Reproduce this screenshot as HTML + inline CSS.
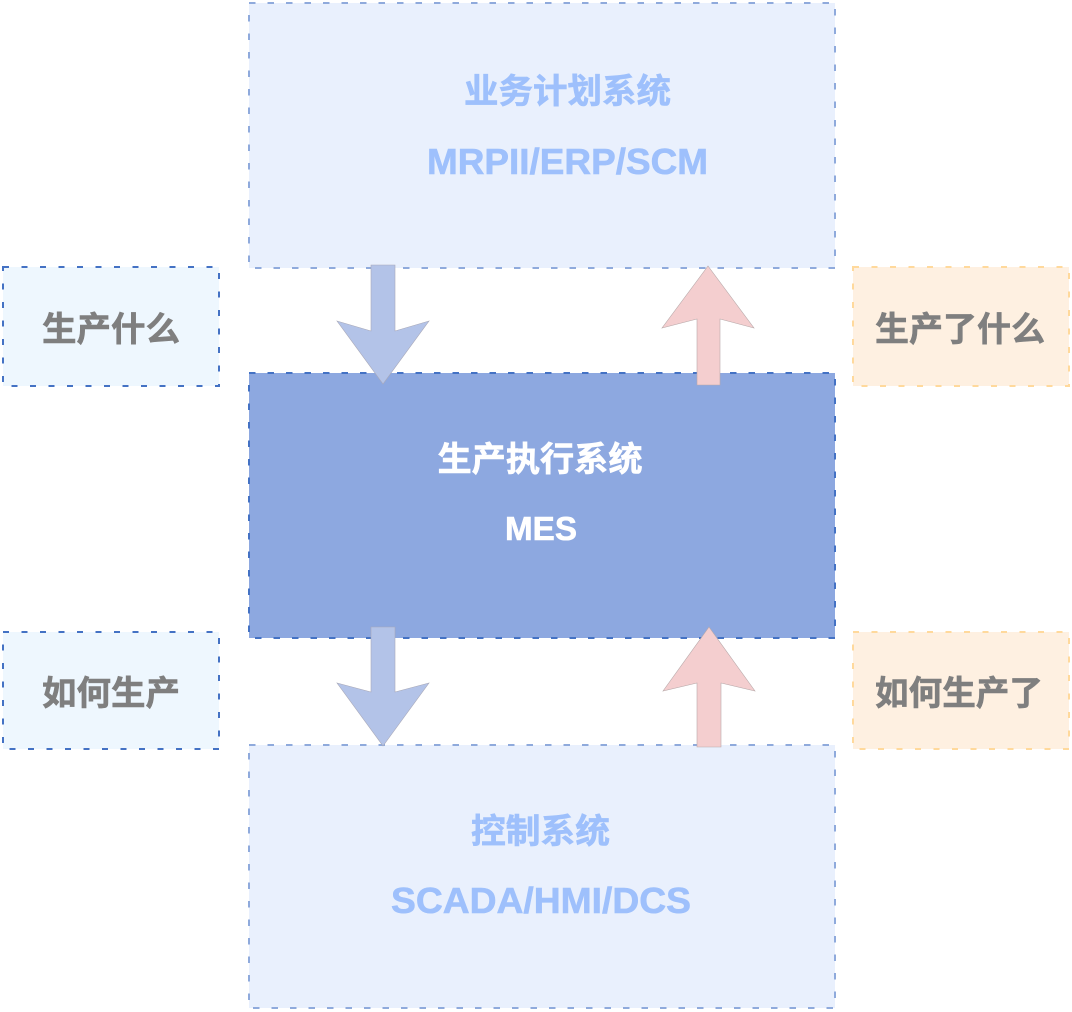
<!DOCTYPE html>
<html>
<head>
<meta charset="utf-8">
<style>
  html, body { margin: 0; padding: 0; background: #ffffff; }
  body { width: 1072px; height: 1012px; overflow: hidden; }
  svg { display: block; }
  text { font-family: "Liberation Sans", "Noto Sans CJK SC", sans-serif; font-weight: bold; stroke-width: 0.6; }
</style>
</head>
<body>
<svg width="1072" height="1012" viewBox="0 0 1072 1012" xmlns="http://www.w3.org/2000/svg">
  <!-- Top box -->
  <rect x="249" y="3" width="586" height="265" fill="#E9F0FD" stroke="#8FAADC" stroke-width="2" stroke-dasharray="6.5 12"/>
  <!-- MES box -->
  <rect x="249" y="373" width="586" height="265" fill="#8DA8E0" stroke="#4472C4" stroke-width="2" stroke-dasharray="6.5 12"/>
  <!-- Bottom box -->
  <rect x="249" y="745" width="586" height="263" fill="#E9F0FD" stroke="#8FAADC" stroke-width="2" stroke-dasharray="6.5 12"/>

  <!-- Left boxes -->
  <rect x="3" y="267" width="216" height="119" fill="#EEF7FE" stroke="#4472C4" stroke-width="2" stroke-dasharray="6 12.5"/>
  <rect x="3" y="632" width="216" height="117" fill="#EEF7FE" stroke="#4472C4" stroke-width="2" stroke-dasharray="6 12.5"/>
  <!-- Right boxes -->
  <rect x="853" y="267" width="216" height="119" fill="#FEF0E1" stroke="#FFD99C" stroke-width="2" stroke-dasharray="6 12.5"/>
  <rect x="853" y="632" width="216" height="117" fill="#FEF0E1" stroke="#FFD99C" stroke-width="2" stroke-dasharray="6 12.5"/>

  <!-- Arrows -->
  <polygon points="371,265 395,265 395,331 429,321 383,384 337,321 371,331" fill="#B3C3E8" stroke="#A9A9B8" stroke-width="0.6"/>
  <polygon points="697,385 720,385 720,319 754,328 708,266 662,328 697,319" fill="#F4CECF" stroke="#B8A9AA" stroke-width="0.6"/>
  <polygon points="371,627 395,627 395,692 429,683 383,746 337,683 371,692" fill="#B3C3E8" stroke="#A9A9B8" stroke-width="0.6"/>
  <polygon points="697,747 721,747 721,683 755,691 709,627 663,691 697,683" fill="#F4CECF" stroke="#B8A9AA" stroke-width="0.6"/>

  <!-- Top box text -->
  <text x="567.5" y="103" font-size="34" fill="#9EC0FC" stroke="#9EC0FC" text-anchor="middle" textLength="207" lengthAdjust="spacingAndGlyphs">业务计划系统</text>
  <text x="567.5" y="174" font-size="36" fill="#9EC0FC" stroke="#9EC0FC" text-anchor="middle" textLength="281" lengthAdjust="spacingAndGlyphs">MRPII/ERP/SCM</text>

  <!-- MES text -->
  <text x="540" y="471" font-size="34" fill="#FFFFFF" stroke="#FFFFFF" text-anchor="middle" textLength="205" lengthAdjust="spacingAndGlyphs">生产执行系统</text>
  <text x="541" y="540" font-size="33" fill="#FFFFFF" stroke="#FFFFFF" text-anchor="middle" textLength="72" lengthAdjust="spacingAndGlyphs">MES</text>

  <!-- Bottom box text -->
  <text x="540.5" y="843" font-size="34" fill="#9EC0FC" stroke="#9EC0FC" text-anchor="middle" textLength="139" lengthAdjust="spacingAndGlyphs">控制系统</text>
  <text x="541" y="913" font-size="36" fill="#9EC0FC" stroke="#9EC0FC" text-anchor="middle" textLength="300" lengthAdjust="spacingAndGlyphs">SCADA/HMI/DCS</text>

  <!-- Side labels -->
  <text x="111" y="341" font-size="34" fill="#7F7F7F" stroke="#7F7F7F" text-anchor="middle" textLength="138" lengthAdjust="spacingAndGlyphs">生产什么</text>
  <text x="111" y="705" font-size="34" fill="#7F7F7F" stroke="#7F7F7F" text-anchor="middle" textLength="138" lengthAdjust="spacingAndGlyphs">如何生产</text>
  <text x="960" y="341" font-size="34" fill="#7F7F7F" stroke="#7F7F7F" text-anchor="middle" textLength="170" lengthAdjust="spacingAndGlyphs">生产了什么</text>
  <text x="959" y="705" font-size="34" fill="#7F7F7F" stroke="#7F7F7F" text-anchor="middle" textLength="168" lengthAdjust="spacingAndGlyphs">如何生产了</text>
</svg>
</body>
</html>
